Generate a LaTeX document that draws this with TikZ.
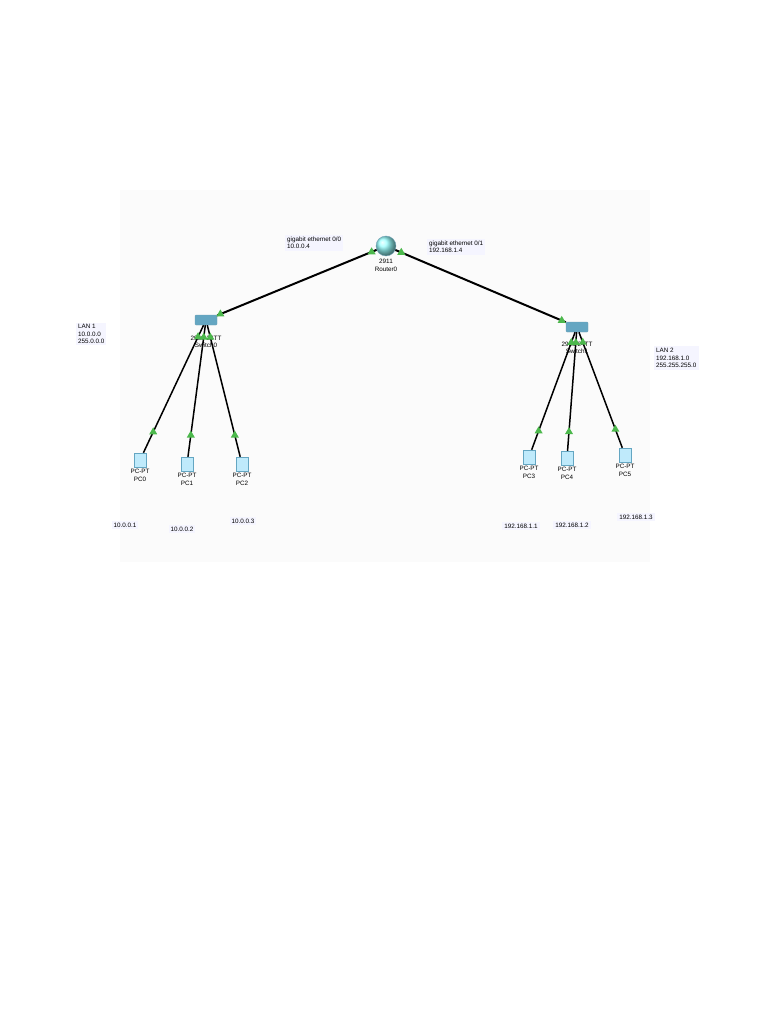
\documentclass[tikz,border=0pt]{standalone}
\usepackage{fontspec}
\setmainfont{Liberation Sans}
\usetikzlibrary{shapes.geometric,calc,positioning}
\begin{document}
\begin{tikzpicture}[x=1pt,y=-1pt,
  lbl/.style={font=\fontsize{6.3}{7.3}\selectfont,align=left,fill=blue!4,inner sep=2pt},
  dev/.style={font=\fontsize{6.3}{7.3}\selectfont,align=center,inner sep=0pt},
  link/.style={line width=2pt,black},
  pcicon/.style={draw=cyan!50!gray,fill=cyan!25,minimum width=12pt,minimum height=14pt,inner sep=0pt},
  swicon/.style={draw=cyan!40!gray,fill=cyan!50!gray,minimum width=22pt,minimum height=10pt,inner sep=0pt,rounded corners=1pt},
  rticon/.style={circle,draw=cyan!40!gray,ball color=cyan!40,minimum size=20pt,inner sep=0pt},
  tri/.style={fill=green!60!black!70,isosceles triangle,isosceles triangle apex angle=60,minimum size=7pt,inner sep=0pt,shape border rotate=90}]
\useasboundingbox (0,0) rectangle (768,1024);
\fill[gray!3] (120,190) rectangle (650,562);
\node[rticon] (r) at (386,246) {};
\node[swicon] (s0) at (206,320) {};
\node[swicon] (s1) at (577,327) {};
\foreach \n/\x/\y in {p0/140/460,p1/187/464,p2/242/464,p3/529/457,p4/567/458,p5/625/455}{
  \node[pcicon] (\n) at (\x,\y) {};
}
\node[dev,below=3pt of r] (rl) {2911\\Router0};
\node[dev] (s0l) at (206,342) {2960-24TT\\Switch0};
\node[dev] (s1l) at (577,348) {2960-24TT\\Switch1};
\foreach \n/\t in {p0/PC0,p1/PC1,p2/PC2,p3/PC3,p4/PC4,p5/PC5}{
  \node[dev,below=2pt of \n] (\n l) {PC-PT\\\t};
}
\draw[link] (r) -- (s0);
\draw[link] (r) -- (s1);
\foreach \a/\b in {s0/p0,s0/p1,s0/p2,s1/p3,s1/p4,s1/p5}{
  \draw[link,line width=1.5pt] (\a) -- (\b);
  \node[tri] at ($(\a)!0.12!(\b)$) {};
  \node[tri] at ($(\b)!0.2!(\a)$) {};
}
\node[tri] at ($(r)!0.08!(s0)$) {};
\node[tri] at ($(s0)!0.08!(r)$) {};
\node[tri] at ($(r)!0.08!(s1)$) {};
\node[tri] at ($(s1)!0.08!(r)$) {};
\node[lbl,anchor=west] (g0) at (285,243) {gigabit ethernet 0/0\\10.0.0.4};
\node[lbl,anchor=west] (g1) at (427,247) {gigabit ethernet 0/1\\192.168.1.4};
\node[lbl,anchor=west] (lan1) at (76,334) {LAN 1\\10.0.0.0\\255.0.0.0};
\node[lbl,anchor=west] (lan2) at (654,358) {LAN 2\\192.168.1.0\\255.255.255.0};
\node[lbl] (a0) at (125,525) {10.0.0.1};
\node[lbl] (a1) at (182,529) {10.0.0.2};
\node[lbl] (a2) at (243,521) {10.0.0.3};
\node[lbl] (a3) at (521,526) {192.168.1.1};
\node[lbl] (a4) at (572,525) {192.168.1.2};
\node[lbl] (a5) at (636,517) {192.168.1.3};
\end{tikzpicture}
\end{document}
